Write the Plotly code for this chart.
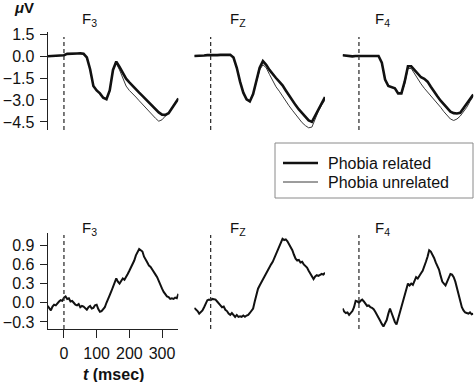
import plotly.graph_objects as go

# ---------------- data ----------------
t_top = [-50, -40, -30, -20, -10, 0, 10, 20, 30, 40, 50, 60, 70, 80, 90, 100, 110, 120, 130, 140,
         150, 160, 170, 180, 190, 200, 210, 220, 230, 240, 250, 260, 270, 280, 290, 300, 310, 320,
         330, 340, 350]

t_bot = [-50, -45, -40, -35, -30, -25, -20, -15, -10, -5,
         0, 5, 10, 15, 20, 25, 30, 35, 40, 45,
         50, 55, 60, 65, 70, 75, 80, 85, 90, 95,
         100, 105, 110, 115, 120, 125, 130, 135, 140, 145,
         150, 155, 160, 165, 170, 175, 180, 185, 190, 195,
         200, 205, 210, 215, 220, 225, 230, 235, 240, 245,
         250, 255, 260, 265, 270, 275, 280, 285, 290, 295,
         300, 305, 310, 315, 320, 325, 330, 335, 340, 345,
         350]

f3_related = [-0.02, 0.0, -0.02, 0.0, 0.02, 0.05, 0.15, 0.17, 0.18, 0.17, 0.18, 0.15,
              -0.1, -0.9, -2.05, -2.35, -2.55, -2.85, -2.95, -2.35, -0.95, -0.38, -0.75,
              -1.2, -1.55, -1.8, -2.05, -2.25, -2.5, -2.72, -2.95, -3.2, -3.4, -3.65, -3.85,
              -4.0, -4.02, -3.9, -3.55, -3.2, -2.9]
f3_unrelated = [-0.02, 0.0, -0.02, 0.0, 0.02, 0.05, 0.15, 0.17, 0.18, 0.17, 0.18, 0.15,
                -0.1, -0.9, -2.05, -2.35, -2.55, -2.85, -2.95, -2.35, -0.95, -0.5, -0.95,
                -1.55, -2.05, -2.35, -2.55, -2.8, -3.05, -3.3, -3.55, -3.8, -4.05, -4.25,
                -4.45, -4.35, -4.1, -3.9, -3.55, -3.2, -2.9]

fz_related = [0.0, 0.03, 0.05, 0.04, 0.06, 0.05, 0.07, 0.06, 0.08, 0.07, 0.1, 0.08,
              -0.1, -0.8, -1.75, -2.5, -2.95, -3.1, -2.6, -1.75, -0.8, -0.35, -0.6,
              -0.95, -1.25, -1.5, -1.75, -2.0, -2.35, -2.7, -3.0, -3.35, -3.65, -3.9,
              -4.15, -4.4, -4.5, -4.05, -3.6, -3.2, -2.8]
fz_unrelated = [0.0, 0.03, 0.05, 0.04, 0.06, 0.05, 0.07, 0.06, 0.08, 0.07, 0.1, 0.08,
                -0.1, -0.8, -1.75, -2.5, -2.95, -3.1, -2.6, -1.75, -0.95, -0.6, -0.8,
                -1.25, -1.7, -2.1, -2.4, -2.75, -3.05, -3.4, -3.7, -4.0, -4.3, -4.55,
                -4.75, -4.9, -4.85, -4.3, -3.75, -3.35, -3.0]

f4_related = [0.05, 0.02, 0.0, -0.02, 0.0, 0.0, 0.02, 0.0, 0.0, 0.02, 0.0, 0.0,
              -0.45, -1.6, -2.05, -2.12, -2.2, -2.55, -2.55, -1.75, -0.7, -0.7, -0.95,
              -1.25, -1.45, -1.55, -1.75, -2.1, -2.45, -2.75, -3.05, -3.3, -3.55, -3.8,
              -3.9, -3.92, -3.88, -3.55, -3.2, -2.9, -2.62]
f4_unrelated = [0.05, 0.02, 0.0, -0.02, 0.0, 0.0, 0.02, 0.0, 0.0, 0.02, 0.0, 0.0,
                -0.45, -1.6, -2.05, -2.12, -2.2, -2.55, -2.55, -1.9, -0.85, -0.85, -1.2,
                -1.6, -1.9, -2.2, -2.45, -2.7, -2.95, -3.25, -3.5, -3.8, -4.05, -4.3,
                -4.4, -4.3, -4.1, -3.8, -3.5, -3.1, -2.75]

f3_diff = [-0.05, -0.08, -0.12, -0.06, -0.03, -0.04, 0.0, 0.02, 0.04, 0.03,
           0.08, 0.1, 0.06, 0.07, 0.02, 0.03, 0.0, -0.03, -0.04, -0.02,
           -0.07, -0.05, -0.06, -0.09, -0.11, -0.07, -0.05, -0.09, -0.08, -0.04,
           -0.03, -0.1, -0.14, -0.13, -0.1, -0.07, 0.0, 0.05, 0.12, 0.18,
           0.25, 0.32, 0.38, 0.33, 0.3, 0.34, 0.38, 0.36, 0.42, 0.45,
           0.5, 0.55, 0.6, 0.66, 0.74, 0.78, 0.84, 0.82, 0.8, 0.72,
           0.66, 0.63, 0.58, 0.56, 0.52, 0.47, 0.44, 0.4, 0.33, 0.27,
           0.22, 0.17, 0.14, 0.1, 0.09, 0.06, 0.07, 0.06, 0.08, 0.07,
           0.14]
fz_diff = [-0.08, -0.1, -0.13, -0.17, -0.15, -0.12, -0.07, 0.0, 0.04, 0.05,
           0.04, 0.06, 0.05, 0.05, 0.02, -0.02, -0.04, -0.07, -0.06, -0.11,
           -0.13, -0.17, -0.19, -0.16, -0.2, -0.22, -0.19, -0.22, -0.21, -0.22,
           -0.2, -0.22, -0.2, -0.19, -0.16, -0.13, -0.09, 0.02, 0.15, 0.22,
           0.27, 0.32, 0.36, 0.41, 0.45, 0.5, 0.55, 0.6, 0.64, 0.7,
           0.75, 0.8, 0.88, 0.93, 1.0, 0.98, 0.99, 0.96, 0.92, 0.87,
           0.82, 0.75, 0.69, 0.66, 0.67, 0.63, 0.64, 0.6, 0.57, 0.55,
           0.5, 0.45, 0.4, 0.37, 0.41, 0.43, 0.42, 0.44, 0.45, 0.44,
           0.47]
f4_diff = [-0.09, -0.14, -0.16, -0.15, -0.19, -0.16, -0.13, -0.07, 0.03, 0.02,
           0.0, 0.03, 0.05, 0.02, -0.02, -0.05, -0.04, -0.07, -0.08, -0.1,
           -0.14, -0.18, -0.23, -0.28, -0.33, -0.37, -0.32, -0.27, -0.17, -0.09,
           -0.16, -0.24, -0.3, -0.34, -0.25, -0.12, -0.04, 0.06, 0.15, 0.23,
           0.3, 0.27, 0.3, 0.28, 0.35, 0.4, 0.38, 0.43, 0.46, 0.5,
           0.56, 0.64, 0.72, 0.82, 0.8, 0.76, 0.7, 0.63, 0.58, 0.52,
           0.42, 0.33, 0.3, 0.27, 0.33, 0.38, 0.45, 0.44, 0.4, 0.33,
           0.22, 0.1, 0.02, -0.07, -0.12, -0.15, -0.16, -0.17, -0.15, -0.18,
           -0.17]

channels = ["F<sub>3</sub>", "F<sub>Z</sub>", "F<sub>4</sub>"]
top_ticks = [1.5, 0.0, -1.5, -3.0, -4.5]
bot_ticks = [0.9, 0.6, 0.3, 0.0, -0.3]
x_ticks = [0, 100, 200, 300]
series_names = ["Phobia related", "Phobia unrelated"]

# ---------------- layout helpers ----------------
W, H = 474, 382
FONT = "Liberation Sans, Arial, Helvetica, sans-serif"
INK = "#111111"


def fx(px):
    return px / W


def fy(py):
    return 1 - py / H


x_doms = [(47.6, 178.4), (194.3, 325.0), (342.6, 473.3)]
top_dom = [fy(130), fy(32)]
bot_dom = [fy(329), fy(233)]
X_RANGE = [-50, 350]
TOP_RANGE = [-5.05, 1.64]
BOT_RANGE = [-0.41, 1.09]
THICK, THIN = 2.6, 1.0
THIN_COLOR = "#3a3a3a"

fig = go.Figure()

related = [f3_related, fz_related, f4_related]
unrelated = [f3_unrelated, fz_unrelated, f4_unrelated]
diffs = [f3_diff, fz_diff, f4_diff]

for i in range(3):
    top_ax = "" if i == 0 else str(i + 1)
    bot_ax = str(i + 4)
    fig.add_trace(go.Scatter(x=t_top, y=unrelated[i], mode="lines",
                             line=dict(color=THIN_COLOR, width=THIN),
                             name=series_names[1], showlegend=False,
                             xaxis="x" + top_ax, yaxis="y" + top_ax))
    fig.add_trace(go.Scatter(x=t_top, y=related[i], mode="lines",
                             line=dict(color=INK, width=THICK),
                             name=series_names[0], showlegend=False,
                             xaxis="x" + top_ax, yaxis="y" + top_ax))
    fig.add_trace(go.Scatter(x=t_bot, y=diffs[i], mode="lines",
                             line=dict(color=INK, width=2.0),
                             name=series_names[0] + " \u2212 " + series_names[1],
                             showlegend=False,
                             xaxis="x" + bot_ax, yaxis="y" + bot_ax))

hidden = dict(visible=False, range=X_RANGE, showgrid=False, zeroline=False,
              fixedrange=True, automargin=False)
layout = {}
for i in range(3):
    dom = [fx(x_doms[i][0]), fx(x_doms[i][1])]
    tk = "" if i == 0 else str(i + 1)
    bk = str(i + 4)
    layout["xaxis" + tk] = dict(hidden, domain=dom, anchor="y" + tk)
    layout["xaxis" + bk] = dict(hidden, domain=dom, anchor="y" + bk)
    layout["yaxis" + tk] = dict(visible=False, range=TOP_RANGE, domain=top_dom,
                                anchor="x" + tk, showgrid=False, zeroline=False,
                                fixedrange=True, automargin=False)
    layout["yaxis" + bk] = dict(visible=False, range=BOT_RANGE, domain=bot_dom,
                                anchor="x" + bk, showgrid=False, zeroline=False,
                                fixedrange=True, automargin=False)

tick_font = dict(family=FONT, size=16, color=INK)
common_y = dict(visible=True, showline=True, linecolor="#222222", linewidth=1,
                ticks="outside", ticklen=7, tickwidth=1, tickcolor="#222222",
                tickformat=".1f", tickfont=tick_font, ticklabelstandoff=2)
layout["yaxis"].update(common_y, tickvals=top_ticks)
layout["yaxis4"].update(common_y, tickvals=bot_ticks)
layout["xaxis4"].update(visible=True, showline=True, linecolor="#222222", linewidth=1,
                        ticks="outside", ticklen=8, tickwidth=1, tickcolor="#222222",
                        tickvals=x_ticks, tickfont=tick_font, ticklabelstandoff=2)

# dashed stimulus-onset lines
shapes = []
for i in range(3):
    tk = "" if i == 0 else str(i + 1)
    bk = str(i + 4)
    shapes.append(dict(type="line", xref="x" + tk, yref=("y" + tk + " domain") if tk else "y domain",
                       x0=0, x1=0, y0=0, y1=0.95,
                       line=dict(color="#333333", width=1.3, dash="4px,3px")))
    shapes.append(dict(type="line", xref="x" + bk, yref="y" + bk + " domain",
                       x0=0, x1=0, y0=0, y1=0.98,
                       line=dict(color="#333333", width=1.3, dash="4px,3px")))

# legend box (drawn so its size matches the original)
shapes.append(dict(type="rect", xref="paper", yref="paper",
                   x0=fx(275), x1=fx(473), y0=fy(198), y1=fy(143),
                   line=dict(color="#8a8a8a", width=1), fillcolor="white", layer="above"))
shapes.append(dict(type="line", xref="paper", yref="paper",
                   x0=fx(283), x1=fx(318), y0=fy(163), y1=fy(163),
                   line=dict(color=INK, width=THICK), layer="above"))
shapes.append(dict(type="line", xref="paper", yref="paper",
                   x0=fx(283), x1=fx(318), y0=fy(182), y1=fy(182),
                   line=dict(color=THIN_COLOR, width=THIN), layer="above"))

annotations = []
for k, yy in enumerate((163, 182)):
    annotations.append(dict(text=series_names[k], xref="paper", yref="paper",
                            x=fx(326), y=fy(yy), xanchor="left", yanchor="middle",
                            showarrow=False, font=dict(family=FONT, size=16, color=INK)))

label_x = [84, 232, 377]
for i in range(3):
    for yy in (20, 228):
        annotations.append(dict(text=channels[i], xref="paper", yref="paper",
                                x=fx(label_x[i] - 4), y=fy(yy), xanchor="left", yanchor="middle",
                                showarrow=False,
                                font=dict(family=FONT, size=15, color=INK)))
annotations.append(dict(text="<b><i>\u03bc</i>V</b>", xref="paper", yref="paper",
                        x=fx(12), y=fy(7), xanchor="left", yanchor="middle", showarrow=False,
                        font=dict(family=FONT, size=15, color=INK)))
# x axis title of the lower-left panel
annotations.append(dict(text="<b><i>t</i> (msec)</b>", xref="paper", yref="paper",
                        x=fx(113), y=fy(374), xanchor="center", yanchor="middle",
                        showarrow=False,
                        font=dict(family=FONT, size=16, color=INK)))

fig.update_layout(
    width=W, height=H,
    margin=dict(l=0, r=0, t=0, b=0, pad=0, autoexpand=False),
    paper_bgcolor="white", plot_bgcolor="white",
    font=dict(family=FONT, size=15, color=INK),
    shapes=shapes, annotations=annotations,
    showlegend=False,
    **layout,
)

fig.write_html("out.html", config={"displayModeBar": False},
               post_script="document.body.style.margin='0';document.body.style.padding='0';"
                           "document.documentElement.style.margin='0';")
